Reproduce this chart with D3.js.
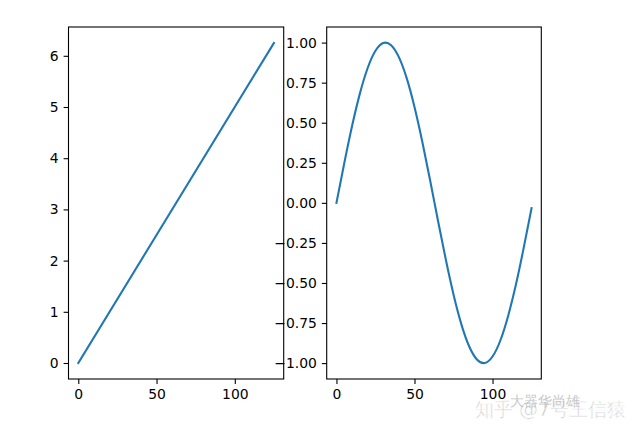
<!DOCTYPE html>
<html>
<head>
<meta charset="utf-8">
<script src="https://cdn.jsdelivr.net/npm/d3@7"></script>
<style>
  html, body { margin: 0; padding: 0; background: #fff; }
  svg { display: block; }
  text { font-family: "DejaVu Sans", sans-serif; }
</style>
</head>
<body>
<svg id="chart" width="642" height="437"></svg>
<script>
// ---- data ----
// left panel: straight line, index vs value
const lineIndex = [0, 125];
const lineValues = [0, 6.25];
// right panel: sine wave sampled every 5 indices
const sineIndex = [0,5,10,15,20,25,30,35,40,45,50,55,60,65,70,75,80,85,90,95,100,105,110,115,120,125];
const sineValues = [0, 0.2474, 0.4794, 0.6816, 0.8415, 0.9490, 0.9975, 0.9840, 0.9093, 0.7781,
  0.5985, 0.3817, 0.1411, -0.1082, -0.3508, -0.5716, -0.7568, -0.8950, -0.9775, -0.9993,
  -0.9589, -0.8589, -0.7055, -0.5100, -0.2794, -0.0332];
const xTicks = [0, 50, 100];
const leftYTicks = [0, 1, 2, 3, 4, 5, 6];
const rightYTicks = [-1.00, -0.75, -0.50, -0.25, 0.00, 0.25, 0.50, 0.75, 1.00];
const watermark = "知乎 @7号王信猿";
const watermark2 = "大器华尚雄";

const svg = d3.select("#chart");
const fontSize = 13.9;
const tickLen = 4.9;
const pad = 4.9;
const color = "#1f77b4";
const fmtMinus = s => s.replace("-", "\u2212");

function panel(box, xs, ys, yTicks, yFmt, curve) {
  const g = svg.append("g");
  const xMin = d3.min(xs), xMax = d3.max(xs);
  const yMin = d3.min(ys), yMax = d3.max(ys);
  const mx = (xMax - xMin) * 0.05, my = (yMax - yMin) * 0.05;
  const x = d3.scaleLinear().domain([xMin - mx, xMax + mx]).range([box.x0, box.x1]);
  const y = d3.scaleLinear().domain([yMin - my, yMax + my]).range([box.y1, box.y0]);

  const line = d3.line().x((d, i) => x(xs[i])).y((d, i) => y(ys[i])).curve(curve);
  g.append("path").datum(ys).attr("d", line)
    .attr("fill", "none").attr("stroke", color).attr("stroke-width", 2.08)
    .attr("stroke-linecap", "square").attr("stroke-linejoin", "round");

  const xAxis = d3.axisBottom(x).tickValues(xTicks).tickSize(tickLen).tickPadding(pad)
    .tickFormat(d3.format("d"));
  const xg = g.append("g").attr("transform", `translate(0,${box.y1})`).call(xAxis);
  const yAxis = d3.axisLeft(y).tickValues(yTicks).tickSize(tickLen).tickPadding(pad)
    .tickFormat(d => fmtMinus(yFmt(d)));
  const yg = g.append("g").attr("transform", `translate(${box.x0},0)`).call(yAxis);
  [xg, yg].forEach(a => {
    a.select(".domain").remove();
    a.selectAll(".tick line").attr("stroke", "#000").attr("stroke-width", 1.1);
    a.selectAll(".tick text").attr("fill", "#000").attr("font-size", fontSize)
      .attr("font-family", "DejaVu Sans, sans-serif");
  });

  g.append("rect").attr("x", box.x0).attr("y", box.y0)
    .attr("width", box.x1 - box.x0).attr("height", box.y1 - box.y0)
    .attr("fill", "none").attr("stroke", "#000").attr("stroke-width", 1.1);
}

panel({x0: 68.5, x1: 283.7, y0: 27, y1: 379}, lineIndex, lineValues, leftYTicks, d3.format("d"), d3.curveLinear);
panel({x0: 326.7, x1: 541.3, y0: 27, y1: 379}, sineIndex, sineValues, rightYTicks, d3.format(".2f"), d3.curveNatural);

// watermark
svg.append("text").attr("x", 475).attr("y", 416)
  .attr("font-family", "Noto Sans CJK SC, sans-serif").attr("font-size", 19)
  .attr("fill", "#c8c8c8").attr("stroke", "#fff").attr("stroke-width", 0.6)
  .text(watermark);
svg.append("text").attr("x", 510).attr("y", 406)
  .attr("font-family", "Noto Sans CJK SC, sans-serif").attr("font-size", 14)
  .attr("fill", "#b0b0b0").attr("opacity", 0.7)
  .text(watermark2);
</script>
</body>
</html>
